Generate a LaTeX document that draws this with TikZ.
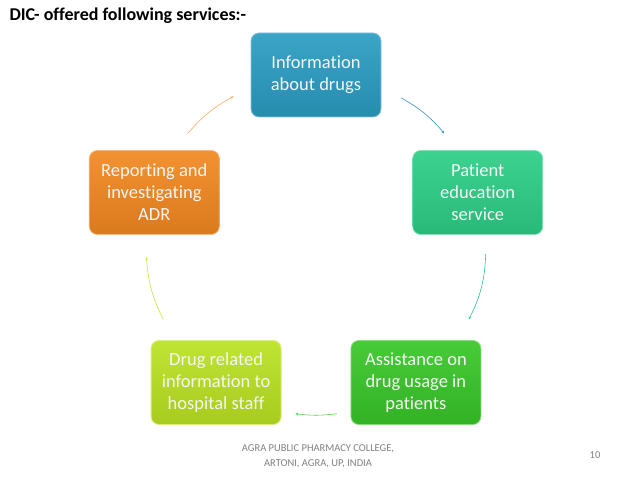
\documentclass[tikz,border=0pt]{standalone}
\usepackage{fontspec}
\setmainfont{Carlito}[Ligatures=NoCommon]
\usepackage{xcolor}
\usetikzlibrary{arrows.meta, positioning, shapes}

\definecolor{infoC}{RGB}{42,156,194}
\definecolor{patC}{RGB}{44,206,134}
\definecolor{assC}{RGB}{56,198,40}
\definecolor{drugC}{RGB}{186,226,34}
\definecolor{repC}{RGB}{242,136,32}
\definecolor{footC}{RGB}{128,128,128}

\begin{document}
\begin{tikzpicture}[x=1pt, y=1pt,
    box/.style={rectangle, rounded corners=8pt, minimum width=130pt, minimum height=84pt,
                align=center, text=white!96!black, line width=0.8pt,
                font=\fontsize{18.5}{22}\selectfont},
    arrow/.style={-{Stealth[length=3pt, width=2.5pt]}, line width=0.6pt},
    note/.style={text=footC, font=\fontsize{10.5}{15}\selectfont, align=center}
]
\useasboundingbox (0,0) rectangle (638,478);

\node[anchor=base west, font=\fontsize{18}{22}\selectfont\bfseries] (title) at (6,457)
    {DIC- offered following services:-};

% five services round a circle
\coordinate (c) at (316,233);
\node[box, draw=infoC!60!white, top color=infoC!92!white, bottom color=infoC!90!black] (info) at (316,403)
    {Information\\ about drugs};
\node[box, draw=patC!60!white, top color=patC!92!white, bottom color=patC!90!black] (pat) at (477.7,285.5)
    {Patient\\ education\\ service};
\node[box, draw=assC!60!white, top color=assC!92!white, bottom color=assC!90!black] (ass) at (415.9,95.5)
    {Assistance on\\ drug usage in\\ patients};
\node[box, draw=drugC!60!white, top color=drugC!92!white, bottom color=drugC!90!black] (drug) at (216.1,95.5)
    {Drug related\\ information to\\ hospital staff};
\node[box, draw=repC!60!white, top color=repC!92!white, bottom color=repC!90!black] (rep) at (154.3,285.5)
    {Reporting and\\ investigating\\ ADR};

% arc ends
\coordinate (a1) at ([shift={(60:170)}]c);
\coordinate (b1) at ([shift={(41:170)}]c);
\coordinate (a2) at ([shift={(-3:170)}]c);
\coordinate (b2) at ([shift={(-26:170)}]c);
\coordinate (a3) at ([shift={(-83:170)}]c);
\coordinate (b3) at ([shift={(-97:170)}]c);
\coordinate (a4) at ([shift={(206:170)}]c);
\coordinate (b4) at ([shift={(184:170)}]c);
\coordinate (a5) at ([shift={(139:170)}]c);
\coordinate (b5) at ([shift={(119:170)}]c);

\draw[arrow, color=infoC!80!gray] (a1) to[bend left=10] (b1);
\draw[arrow, color=patC!75!infoC] (a2) to[bend left=12] (b2);
\draw[arrow, color=assC!85!white] (a3) to[bend left=7] (b3);
\draw[arrow, color=drugC!85!white] (a4) to[bend left=11] (b4);
\draw[arrow, color=repC!70!white] (a5) to[bend left=10] (b5);

\node[note] (college) at (318,21.5) {AGRA PUBLIC PHARMACY COLLEGE,\\ ARTONI, AGRA, UP, INDIA};
\node[note] (page) at (595,23) {10};
\end{tikzpicture}
\end{document}
